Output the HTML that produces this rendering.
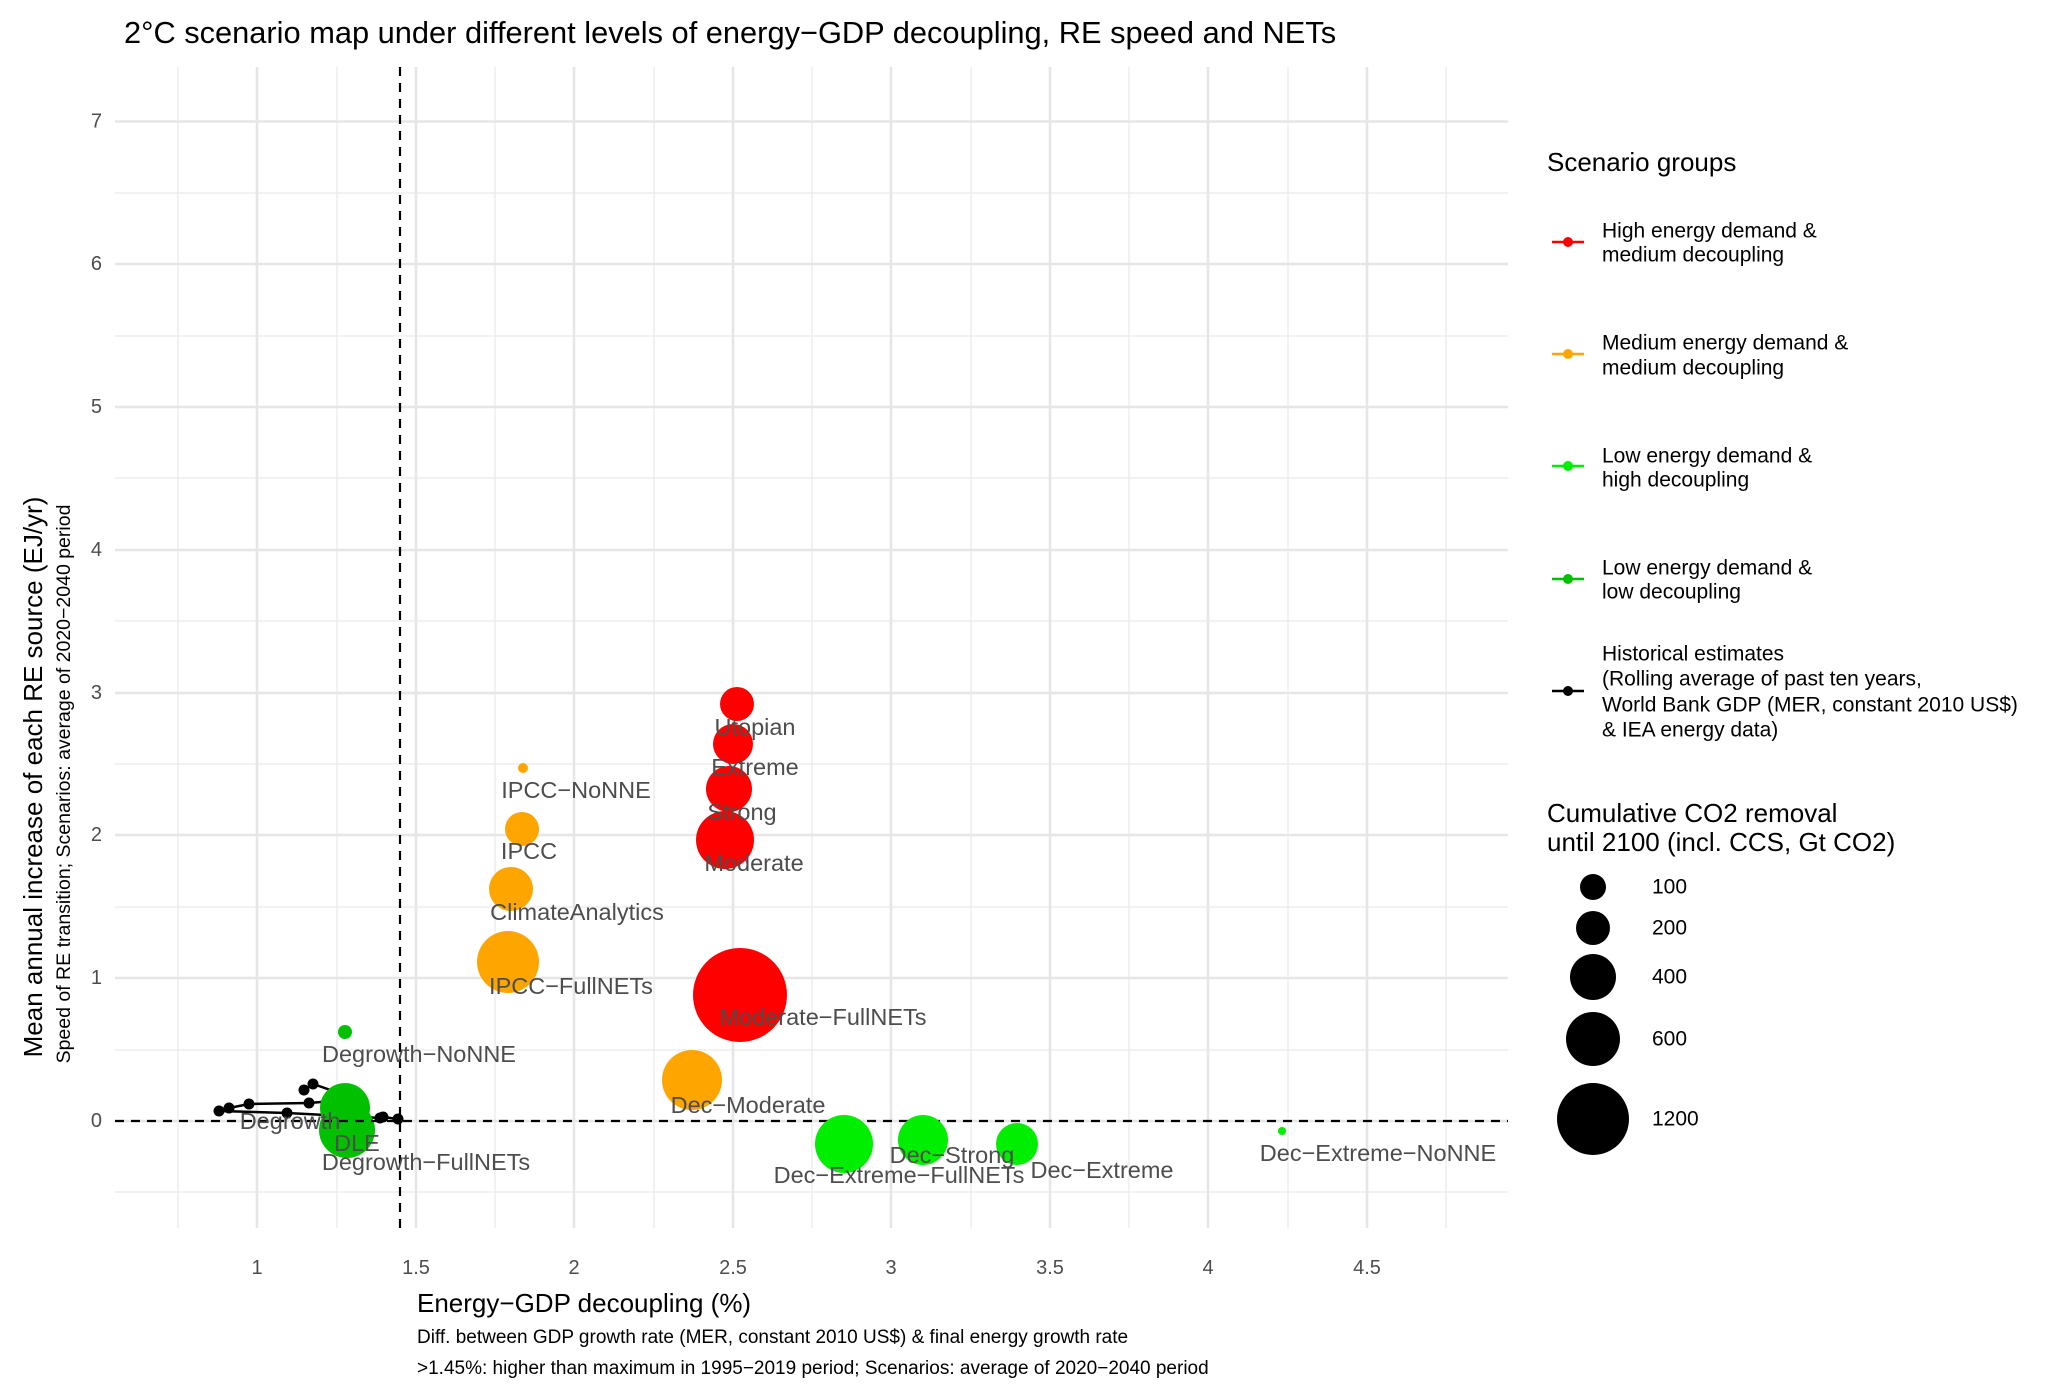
<!DOCTYPE html>
<html><head><meta charset="utf-8"><style>
html,body{margin:0;padding:0;background:#fff;}
svg{display:block;font-family:"Liberation Sans",sans-serif;}
.lab{fill:#4d4d4d;font-size:23.5px;text-anchor:middle;dominant-baseline:central;}
.tk{fill:#4d4d4d;font-size:20px;}
.lg{font-size:21px;fill:#000;}
</style></head><body>
<svg width="2048" height="1400" viewBox="0 0 2048 1400" xmlns="http://www.w3.org/2000/svg">
<rect width="2048" height="1400" fill="#fff"/>
<text x="124" y="43" font-size="30.8" fill="#000">2°C scenario map under different levels of energy−GDP decoupling, RE speed and NETs</text>
<g stroke="#ebebeb" stroke-width="1.3">
<line x1="115" x2="1508" y1="1192" y2="1192"/><line x1="115" x2="1508" y1="1050" y2="1050"/><line x1="115" x2="1508" y1="907" y2="907"/><line x1="115" x2="1508" y1="764" y2="764"/><line x1="115" x2="1508" y1="621" y2="621"/><line x1="115" x2="1508" y1="478" y2="478"/><line x1="115" x2="1508" y1="336" y2="336"/><line x1="115" x2="1508" y1="193" y2="193"/>
<line y1="67" y2="1228" x1="178" x2="178"/><line y1="67" y2="1228" x1="337" x2="337"/><line y1="67" y2="1228" x1="495" x2="495"/><line y1="67" y2="1228" x1="654" x2="654"/><line y1="67" y2="1228" x1="812" x2="812"/><line y1="67" y2="1228" x1="971" x2="971"/><line y1="67" y2="1228" x1="1129" x2="1129"/><line y1="67" y2="1228" x1="1288" x2="1288"/><line y1="67" y2="1228" x1="1446" x2="1446"/>
</g>
<g stroke="#e6e6e6" stroke-width="2.6">
<line x1="115" x2="1508" y1="1121" y2="1121"/><line x1="115" x2="1508" y1="978" y2="978"/><line x1="115" x2="1508" y1="835" y2="835"/><line x1="115" x2="1508" y1="693" y2="693"/><line x1="115" x2="1508" y1="550" y2="550"/><line x1="115" x2="1508" y1="407" y2="407"/><line x1="115" x2="1508" y1="264" y2="264"/><line x1="115" x2="1508" y1="121.5" y2="121.5"/>
<line y1="67" y2="1228" x1="257" x2="257"/><line y1="67" y2="1228" x1="416" x2="416"/><line y1="67" y2="1228" x1="574" x2="574"/><line y1="67" y2="1228" x1="733" x2="733"/><line y1="67" y2="1228" x1="891" x2="891"/><line y1="67" y2="1228" x1="1050" x2="1050"/><line y1="67" y2="1228" x1="1208" x2="1208"/><line y1="67" y2="1228" x1="1367" x2="1367"/>
</g>
<g class="tk" text-anchor="end" dominant-baseline="central">
<text x="102" y="1121">0</text><text x="102" y="978">1</text><text x="102" y="835">2</text><text x="102" y="693">3</text><text x="102" y="550">4</text><text x="102" y="407">5</text><text x="102" y="264">6</text><text x="102" y="121.5">7</text>
</g>
<g class="tk" text-anchor="middle">
<text x="257" y="1274">1</text><text x="416" y="1274">1.5</text><text x="574" y="1274">2</text><text x="733" y="1274">2.5</text><text x="891" y="1274">3</text><text x="1050" y="1274">3.5</text><text x="1208" y="1274">4</text><text x="1367" y="1274">4.5</text>
</g>
<g stroke="#000" stroke-width="2.5" fill="none">
<polyline points="398,1119 383,1117 380,1118 345,1116 287,1113 219,1111 229,1108 249,1104 309,1103 345,1100"/>
<polyline points="304,1090 313,1084 345,1095"/>
</g>
<g fill="#000">
<circle cx="219" cy="1111" r="5.5"/><circle cx="229" cy="1108" r="5.5"/><circle cx="249" cy="1104" r="5.5"/><circle cx="309" cy="1103" r="5.5"/><circle cx="304" cy="1090" r="5.5"/><circle cx="313" cy="1084" r="5.5"/><circle cx="287" cy="1113" r="5.5"/>
</g>
<g fill="#00c000">
<circle cx="345" cy="1032" r="7"/>
<circle cx="345" cy="1108" r="25"/>
<circle cx="347" cy="1130" r="28"/>
</g>
<g fill="#000"><circle cx="380" cy="1118" r="5.5"/><circle cx="383" cy="1117" r="5.5"/><circle cx="398" cy="1119" r="5.5"/></g>
<line x1="400" x2="400" y1="67" y2="1228" stroke="#000" stroke-width="2.2" stroke-dasharray="9,7"/>
<line x1="115" x2="1508" y1="1121" y2="1121" stroke="#000" stroke-width="2.2" stroke-dasharray="9,7"/>
<g fill="#ffa500">
<circle cx="523" cy="768" r="5"/><circle cx="522" cy="829" r="17"/><circle cx="511" cy="889" r="22"/><circle cx="508" cy="962" r="31"/><circle cx="692" cy="1080" r="30"/>
</g>
<g fill="#ff0000">
<circle cx="737" cy="704" r="17"/><circle cx="733" cy="744" r="20"/><circle cx="729" cy="789" r="23"/><circle cx="725" cy="840" r="29"/><circle cx="740" cy="995" r="47"/>
</g>
<g fill="#00ee00">
<circle cx="844" cy="1144" r="29"/><circle cx="923" cy="1140" r="25"/><circle cx="1017" cy="1144" r="21"/><circle cx="1282" cy="1131" r="4"/>
</g>
<g class="lab">
<text x="755" y="727">Utopian</text><text x="755" y="767">Extreme</text><text x="742" y="812">Strong</text><text x="754" y="863">Moderate</text><text x="823" y="1017">Moderate−FullNETs</text>
<text x="576" y="790">IPCC−NoNNE</text><text x="529" y="851">IPCC</text><text x="577" y="912">ClimateAnalytics</text><text x="571" y="986">IPCC−FullNETs</text><text x="748" y="1105">Dec−Moderate</text>
<text x="419" y="1054">Degrowth−NoNNE</text><text x="290" y="1121">Degrowth</text><text x="357" y="1143">DLE</text><text x="426" y="1162">Degrowth−FullNETs</text>
<text x="952" y="1155">Dec−Strong</text><text x="899" y="1175">Dec−Extreme−FullNETs</text><text x="1102" y="1170">Dec−Extreme</text><text x="1378" y="1153">Dec−Extreme−NoNNE</text>
</g>
<text transform="translate(42,777) rotate(-90)" text-anchor="middle" font-size="26" fill="#000">Mean annual increase of each RE source (EJ/yr)</text>
<text transform="translate(70,784) rotate(-90)" text-anchor="middle" font-size="19.5" fill="#000">Speed of RE transition; Scenarios: average of 2020−2040 period</text>
<text x="417" y="1312" font-size="26" fill="#000">Energy−GDP decoupling (%)</text>
<text x="417" y="1343" font-size="19" fill="#000">Diff. between GDP growth rate (MER, constant 2010 US$) &amp; final energy growth rate</text>
<text x="417" y="1374" font-size="19" fill="#000">&gt;1.45%: higher than maximum in 1995−2019 period; Scenarios: average of 2020−2040 period</text>
<text x="1547" y="171" font-size="26" fill="#000">Scenario groups</text>
<g stroke-width="2.5">
<line x1="1552" x2="1584" y1="242" y2="242" stroke="#ff0000"/><circle cx="1568" cy="242" r="5" fill="#ff0000"/>
<line x1="1552" x2="1584" y1="354" y2="354" stroke="#ffa500"/><circle cx="1568" cy="354" r="5" fill="#ffa500"/>
<line x1="1552" x2="1584" y1="466" y2="466" stroke="#00ee00"/><circle cx="1568" cy="466" r="5" fill="#00ee00"/>
<line x1="1552" x2="1584" y1="579" y2="579" stroke="#00c000"/><circle cx="1568" cy="579" r="5" fill="#00c000"/>
<line x1="1552" x2="1584" y1="691" y2="691" stroke="#000"/><circle cx="1568" cy="691" r="5" fill="#000"/>
</g>
<g class="lg" dominant-baseline="central">
<text x="1602" y="231">High energy demand &amp;</text><text x="1602" y="255">medium decoupling</text>
<text x="1602" y="343">Medium energy demand &amp;</text><text x="1602" y="368">medium decoupling</text>
<text x="1602" y="456">Low energy demand &amp;</text><text x="1602" y="480">high decoupling</text>
<text x="1602" y="568">Low energy demand &amp;</text><text x="1602" y="592">low decoupling</text>
<text x="1602" y="654">Historical estimates</text><text x="1602" y="679">(Rolling average of past ten years,</text><text x="1602" y="705">World Bank GDP (MER, constant 2010 US$)</text><text x="1602" y="730">&amp; IEA energy data)</text>
</g>
<g font-size="26" fill="#000" dominant-baseline="central">
<text x="1547" y="813">Cumulative CO2 removal</text>
<text x="1547" y="842">until 2100 (incl. CCS, Gt CO2)</text>
</g>
<g fill="#000">
<circle cx="1593" cy="887" r="13"/><circle cx="1593" cy="928" r="17"/><circle cx="1593" cy="977" r="23"/><circle cx="1593" cy="1039" r="27"/><circle cx="1593" cy="1119" r="36"/>
</g>
<g class="lg" dominant-baseline="central">
<text x="1652" y="887">100</text><text x="1652" y="928">200</text><text x="1652" y="977">400</text><text x="1652" y="1039">600</text><text x="1652" y="1119">1200</text>
</g>
</svg>
</body></html>
